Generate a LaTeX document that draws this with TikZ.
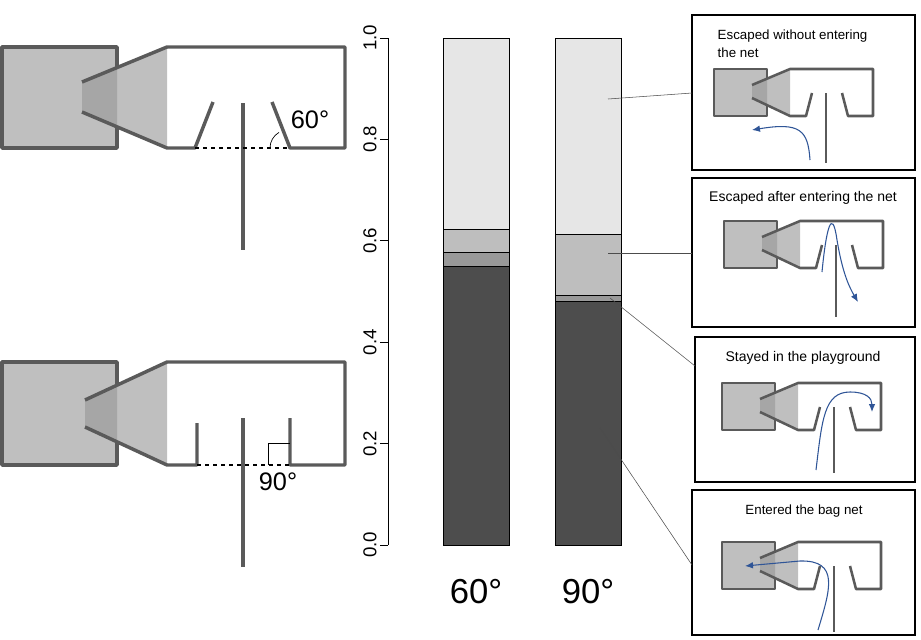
\documentclass[tikz,border=0pt]{standalone}
\usepackage{fontspec}
\setmainfont{Liberation Sans}
\usetikzlibrary{arrows.meta}
\definecolor{tg}{HTML}{5A5A5A}
\definecolor{dk}{HTML}{4D4D4D}
\definecolor{md}{HTML}{999999}
\definecolor{lm}{HTML}{BEBEBE}
\definecolor{lt}{HTML}{E6E6E6}
\definecolor{sq}{HTML}{BFBFBF}
\definecolor{ov}{HTML}{A6A6A6}
\definecolor{ab}{HTML}{2F5597}
\tikzset{trap/.style={draw=tg,line width=2.6pt,line join=round},
 mtrap/.style={draw=tg,line width=1.9pt,line join=round},
 flow/.style={draw=ab,line width=0.8pt,-{Latex[length=6pt,width=5pt]}},
 bar/.style={draw=black,line width=0.4pt},
 lead/.style={draw=black!70,line width=0.4pt},
 panel/.style={draw=black,line width=0.8pt}}
\newcommand\minitrap[3]{%
\begin{scope}[shift={(#1,#2)}]
 \fill[sq] (0,0) rectangle (53,47);
 \draw[mtrap] (53,0)--(0,0)--(0,47)--(53,47)--cycle;
 \fill[sq] (38,16)--(76,0)--(76,47)--(38,29)--cycle;
 \fill[ov] (38,16)--(53,10)--(53,36)--(38,29)--cycle;
 \draw[mtrap] (38,16)--(76,0)--(159,0)--(159,47)--(134,47)--(128,24);
 \draw[mtrap] (38,29)--(76,47)--(92,47)--(98,24);
 \draw[mtrap] (112,24)--(112,#3);
\end{scope}}
\begin{document}
\begin{tikzpicture}[x=0.75pt,y=-0.75pt]
\useasboundingbox (0,0) rectangle (921,639);
% top trap
\fill[sq] (2,47) rectangle (117,148);
\draw[trap] (2,47) rectangle (117,148);
\fill[sq] (82,82)--(167,47)--(167,148)--(82,112)--cycle;
\fill[ov] (82,82)--(117,68)--(117,127)--(82,112)--cycle;
\draw[trap] (82,82)--(167,47)--(345,47)--(345,148)--(290,148)--(272,102);
\draw[trap] (82,112)--(167,148)--(195,148)--(213,102);
\draw[trap] (243,103)--(243,250);
\draw[dashed,line width=0.8pt] (195,148)--(290,148);
\draw[line width=0.5pt] (270,148) arc (180:240:18);
\node[font=\fontsize{19}{20}\selectfont] (a60) at (310,120) {60°};
% bottom trap
\fill[sq] (2,362) rectangle (117,465);
\draw[trap] (2,362) rectangle (117,465);
\fill[sq] (85,400)--(167,362)--(167,465)--(85,427)--cycle;
\fill[ov] (85,400)--(117,386)--(117,442)--(85,427)--cycle;
\draw[trap] (85,400)--(167,362)--(345,362)--(345,465)--(290,465)--(290,418);
\draw[trap] (85,427)--(167,465)--(197,465)--(197,423);
\draw[trap] (243,418)--(243,567);
\draw[dashed,line width=0.8pt] (197,465)--(290,465);
\draw[line width=0.6pt] (268,465)--(268,443)--(290,443);
\node[font=\fontsize{19}{20}\selectfont] (a90) at (278,482) {90°};
% axis
\draw[line width=0.5pt] (388,38)--(388,545);
\foreach \v/\l in {0/0.0,0.2/0.2,0.4/0.4,0.6/0.6,0.8/0.8,1/1.0}{
 \draw[line width=0.5pt] (388,545-507*\v)--(380,545-507*\v);
 \node[rotate=90,font=\fontsize{14}{14}\selectfont] at (370,545-507*\v) {\l};}
% bars
\foreach \x/\a/\b/\c in {443/0.55/0.577/0.622, 555/0.48/0.493/0.613}{
 \filldraw[bar,fill=dk] (\x,545) rectangle (\x+66,545-507*\a);
 \filldraw[bar,fill=md] (\x,545-507*\a) rectangle (\x+66,545-507*\b);
 \filldraw[bar,fill=lm] (\x,545-507*\b) rectangle (\x+66,545-507*\c);
 \filldraw[bar,fill=lt] (\x,545-507*\c) rectangle (\x+66,38);}
\node[font=\fontsize{26}{26}\selectfont] (l60) at (476,592) {60°};
\node[font=\fontsize{26}{26}\selectfont] (l90) at (588,592) {90°};
% panels
\draw[panel] (692,15) rectangle (915,170);
\draw[panel] (692,178) rectangle (915,327);
\draw[panel] (695,337) rectangle (915,482);
\draw[panel] (692,490) rectangle (915,635);
\coordinate (p1) at (692,93); \coordinate (b1) at (608,99);
\coordinate (p2) at (692,253); \coordinate (b2) at (608,253);
\coordinate (p3) at (695,366); \coordinate (b3) at (610,298);
\coordinate (p4) at (692,565); \coordinate (b4) at (600,428);
\draw[lead] (b1)--(p1); \draw[lead] (b2)--(p2); \draw[lead] (b3)--(p3); \draw[lead] (b4)--(p4);
\node[anchor=north west,align=left,font=\fontsize{10}{13.5}\selectfont] (t1) at (713,25) {Escaped without entering\\the net};
\node[font=\fontsize{10.5}{12}\selectfont] (t2) at (803,198) {Escaped after entering the net};
\node[font=\fontsize{10.5}{12}\selectfont] (t3) at (803,358) {Stayed in the playground};
\node[font=\fontsize{10}{12}\selectfont] (t4) at (804,511) {Entered the bag net};
\minitrap{714}{69}{94}
\minitrap{724}{221}{96}
\minitrap{722}{383}{90}
\minitrap{722}{542}{90}
\draw[flow] (810,160) .. controls (808,130) and (800,122) .. (752,130);
\draw[flow] (822,272) .. controls (826,230) and (832,205) .. (837,240) .. controls (842,270) and (848,285) .. (858,302);
\draw[flow] (816,470) .. controls (822,420) and (824,392) .. (850,392) .. controls (866,392) and (872,398) .. (872,412);
\draw[flow] (818,630) .. controls (830,590) and (840,560) .. (800,561) -- (745,566);
\end{tikzpicture}
\end{document}
